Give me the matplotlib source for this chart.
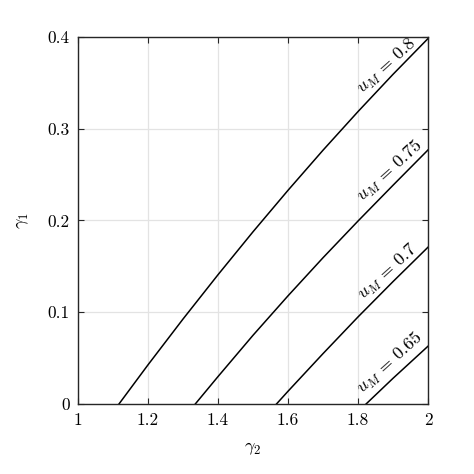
import matplotlib
matplotlib.use("Agg")
import matplotlib.pyplot as plt

plt.rcParams['mathtext.fontset'] = 'cm'
plt.rcParams['font.family'] = ['cmr10', 'DejaVu Serif']
plt.rcParams['axes.formatter.use_mathtext'] = True

# Curves gamma_1(gamma_2) for several u_M levels
x_080 = [1.117, 1.2, 1.3, 1.4, 1.5, 1.6, 1.7, 1.8, 1.9, 2.0]
y_080 = [0.0, 0.0427, 0.0926, 0.1409, 0.1877, 0.2329, 0.2766, 0.3187, 0.3593, 0.3983]

x_075 = [1.335, 1.4, 1.5, 1.6, 1.7, 1.8, 1.9, 2.0]
y_075 = [0.0, 0.0299, 0.0749, 0.1179, 0.1594, 0.1994, 0.2384, 0.2769]

x_070 = [1.567, 1.6, 1.7, 1.8, 1.9, 2.0]
y_070 = [0.0, 0.0139, 0.0549, 0.0949, 0.1334, 0.1709]

x_065 = [1.823, 1.9, 2.0]
y_065 = [0.0, 0.028, 0.063]

labels = [r'$u_M\,=\,0.8$', r'$u_M\,=\,0.75$', r'$u_M\,=\,0.7$', r'$u_M\,=\,0.65$']
label_x = [1.884, 1.891, 1.884, 1.891]
label_y = [0.368, 0.254, 0.144, 0.045]

xticks = [1, 1.2, 1.4, 1.6, 1.8, 2]
xtick_labels = ['1', '1.2', '1.4', '1.6', '1.8', '2']
yticks = [0, 0.1, 0.2, 0.3, 0.4]
ytick_labels = ['0', '0.1', '0.2', '0.3', '0.4']

fig = plt.figure(figsize=(4.74, 4.74), dpi=100)
ax = fig.add_axes([0.1646, 0.1477, 0.7384, 0.7743])

for xs, ys in [(x_080, y_080), (x_075, y_075), (x_070, y_070), (x_065, y_065)]:
    ax.plot(xs, ys, color='black', lw=1.1)

for t, lx, ly in zip(labels, label_x, label_y):
    ax.text(lx, ly, t, rotation=42, ha='center', va='center',
            rotation_mode='anchor', fontsize=13)

ax.set_xlim(1, 2)
ax.set_ylim(0, 0.4)
ax.set_xticks(xticks)
ax.set_xticklabels(xtick_labels)
ax.set_yticks(yticks)
ax.set_yticklabels(ytick_labels)
ax.tick_params(direction='in', top=True, right=True, length=4, width=0.8,
               labelsize=12.5, pad=6, color='#262626')
ax.grid(True, color='#e3e3e3', lw=0.9)
ax.set_axisbelow(True)
for s in ax.spines.values():
    s.set_linewidth(1.0)
    s.set_color('#262626')

ax.set_xlabel(r'$\gamma_2$', fontsize=13, labelpad=9)
ax.set_ylabel(r'$\gamma_1$', fontsize=13, labelpad=12)

fig.savefig('out.png', dpi=100)
